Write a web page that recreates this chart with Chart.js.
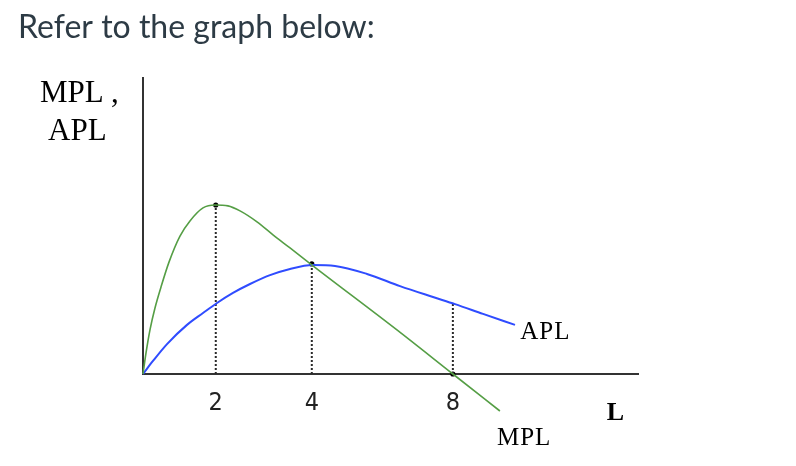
<!DOCTYPE html>
<html>
<head>
<meta charset="utf-8">
<script src="https://cdn.jsdelivr.net/npm/chart.js@4.4.0/dist/chart.umd.min.js"></script>
<style>
  html, body { margin: 0; padding: 0; background: #fff; }
  #wrap { position: relative; width: 796px; height: 466px; }
</style>
</head>
<body>
<div id="wrap"><canvas id="productChart" width="796" height="466"></canvas></div>
<script>
// x is the position along the drawn L axis (the sketch is not to scale)
const tickPos = [1.47, 3.41, 6.26];
const tickLabels = ["2", "4", "8"];

const mplX = [0, 0.061, 0.141, 0.242, 0.364, 0.525, 0.747, 0.949, 1.212, 1.455, 1.717, 1.960, 2.303, 2.626, 2.970, 3.414, 5.13, 6.26, 7.21];
const mplY = [0, 0.71, 1.49, 2.23, 2.94, 3.78, 4.66, 5.17, 5.61, 5.71, 5.68, 5.51, 5.14, 4.70, 4.26, 3.68, 1.49, 0, -1.25];

const aplX = [0, 0.202, 0.485, 0.889, 1.212, 1.495, 1.818, 2.162, 2.566, 2.970, 3.434, 3.879, 4.525, 5.192, 5.859, 6.303, 6.869, 7.515];
const aplY = [0, 0.44, 1.01, 1.66, 2.06, 2.40, 2.74, 3.04, 3.34, 3.55, 3.68, 3.65, 3.38, 2.97, 2.60, 2.36, 2.03, 1.66];

// dotted drop lines: MPL max, MPL = APL, APL at L = 8
const dropX = [1.47, 3.41, 6.26];
const dropTop = [5.71, 3.72, 2.40];
const dotY = [5.71, 3.72, 0];

const toPoints = (xs, ys) => xs.map((x, i) => ({ x: x, y: ys[i] }));

const dropSets = dropX.map((x, i) => ({
    data: [{ x: x, y: 0 }, { x: x, y: dropTop[i] }],
    borderColor: "#2a2a2a",
    borderWidth: 2,
    borderDash: [2, 2],
    pointRadius: 0,
    clip: false
}));

const textPlugin = {
    id: "sketchText",
    afterDraw(chart) {
        const ctx = chart.ctx;
        const xs = chart.scales.x;
        const ys = chart.scales.y;
        const area = chart.chartArea;
        ctx.save();
        ctx.textBaseline = "alphabetic";
        ctx.textAlign = "left";

        ctx.fillStyle = "#2d3b45";
        ctx.font = "32px Lato";
        ctx.fillText("Refer to the graph below:", 18, 38);

        ctx.fillStyle = "#000";
        ctx.font = "31px 'Liberation Serif'";
        ctx.fillText("MPL", area.left - 103, 102);
        ctx.fillText(",", area.left - 32, 102);
        ctx.fillText("APL", area.left - 95, 140);

        ctx.font = "25px 'Liberation Serif'";
        ctx.letterSpacing = "1px";
        ctx.fillText("APL", xs.getPixelForValue(7.62), ys.getPixelForValue(1.18));
        ctx.fillText("MPL", xs.getPixelForValue(7.15), ys.getPixelForValue(-2.40));
        ctx.font = "bold 26px 'Liberation Serif'";
        ctx.fillText("L", xs.getPixelForValue(9.37), ys.getPixelForValue(-1.55));
        ctx.restore();
    }
};

const ctx = document.getElementById("productChart").getContext("2d");
new Chart(ctx, {
    type: "line",
    data: {
        datasets: [
            {
                label: "MPL",
                data: toPoints(mplX, mplY),
                borderColor: "#559e45",
                borderWidth: 1.6,
                pointRadius: 0,
                cubicInterpolationMode: "monotone",
                clip: false
            },
            {
                label: "APL",
                data: toPoints(aplX, aplY),
                borderColor: "#2f4cff",
                borderWidth: 2,
                pointRadius: 0,
                cubicInterpolationMode: "monotone",
                clip: false
            },
            ...dropSets,
            {
                data: toPoints(dropX, dotY),
                showLine: false,
                pointRadius: 2.6,
                pointBackgroundColor: "#000",
                pointBorderWidth: 0,
                clip: false
            }
        ]
    },
    options: {
        responsive: false,
        animation: false,
        devicePixelRatio: 1,
        layout: { padding: { left: 143, top: 78, right: 158, bottom: 0 } },
        plugins: {
            legend: { display: false },
            tooltip: { enabled: false }
        },
        scales: {
            x: {
                type: "linear",
                min: 0,
                max: 10,
                grid: { display: false, drawTicks: false },
                border: { display: true, color: "#333", width: 2 },
                afterBuildTicks: (scale) => {
                    scale.ticks = tickPos.map((v) => ({ value: v }));
                },
                afterFit: (scale) => { scale.height = 92; },
                ticks: {
                    padding: 14,
                    autoSkip: false,
                    maxRotation: 0,
                    color: "#222",
                    font: { family: "'Liberation Sans Narrow', 'DejaVu Sans Condensed', 'Liberation Sans'", size: 25 },
                    callback: (value, index) => tickLabels[index]
                }
            },
            y: {
                type: "linear",
                min: 0,
                max: 10,
                grid: { display: false, drawTicks: false },
                border: { display: true, color: "#333", width: 2 },
                ticks: { display: false },
                afterFit: (scale) => { scale.width = 0; }
            }
        }
    },
    plugins: [textPlugin]
});
</script>
</body>
</html>
